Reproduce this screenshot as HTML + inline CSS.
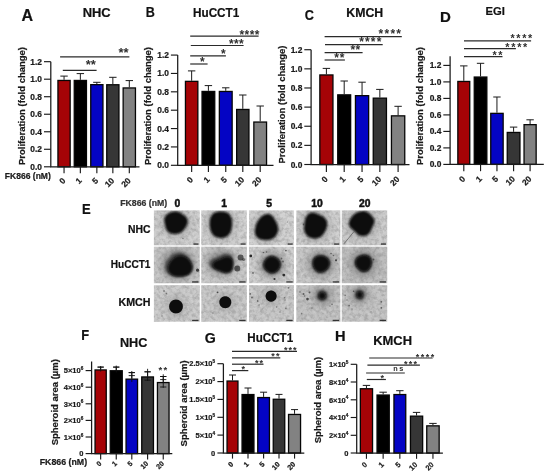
<!DOCTYPE html>
<html lang="en"><head><meta charset="utf-8"><title>FK866 proliferation and spheroid area</title>
<style>
html,body{margin:0;padding:0;background:#fff;}
body{width:550px;height:475px;overflow:hidden;font-family:"Liberation Sans",sans-serif;}
svg{display:block;font-family:"Liberation Sans",sans-serif;}
svg text{stroke:#1a1a1a;stroke-width:0.22px;paint-order:stroke;}
</style></head><body>
<svg width="550" height="475" viewBox="0 0 550 475">
<rect width="550" height="475" fill="#fff"/>

<line x1="44" y1="166.8" x2="50.8" y2="166.8" stroke="#1a1a1a" stroke-width="1.15"/>
<text x="42" y="169.82" text-anchor="end" font-size="8.4" font-weight="bold" fill="#1a1a1a">0.0</text>
<line x1="44" y1="149.28" x2="50.8" y2="149.28" stroke="#1a1a1a" stroke-width="1.15"/>
<text x="42" y="152.3" text-anchor="end" font-size="8.4" font-weight="bold" fill="#1a1a1a">0.2</text>
<line x1="44" y1="131.76" x2="50.8" y2="131.76" stroke="#1a1a1a" stroke-width="1.15"/>
<text x="42" y="134.78" text-anchor="end" font-size="8.4" font-weight="bold" fill="#1a1a1a">0.4</text>
<line x1="44" y1="114.24" x2="50.8" y2="114.24" stroke="#1a1a1a" stroke-width="1.15"/>
<text x="42" y="117.26" text-anchor="end" font-size="8.4" font-weight="bold" fill="#1a1a1a">0.6</text>
<line x1="44" y1="96.72" x2="50.8" y2="96.72" stroke="#1a1a1a" stroke-width="1.15"/>
<text x="42" y="99.74" text-anchor="end" font-size="8.4" font-weight="bold" fill="#1a1a1a">0.8</text>
<line x1="44" y1="79.2" x2="50.8" y2="79.2" stroke="#1a1a1a" stroke-width="1.15"/>
<text x="42" y="82.22" text-anchor="end" font-size="8.4" font-weight="bold" fill="#1a1a1a">1.0</text>
<line x1="44" y1="61.68" x2="50.8" y2="61.68" stroke="#1a1a1a" stroke-width="1.15"/>
<text x="42" y="64.7" text-anchor="end" font-size="8.4" font-weight="bold" fill="#1a1a1a">1.2</text>
<path d="M64.05 79.8V76.1M60.35 76.1H67.75" stroke="#1a1a1a" stroke-width="1" fill="none"/>
<rect x="57.95" y="80.45" width="12.2" height="86.35" fill="#a50306" stroke="#060606" stroke-width="1.3"/>
<line x1="64.05" y1="166.8" x2="64.05" y2="173.3" stroke="#1a1a1a" stroke-width="1.15"/>
<text transform="translate(63.85 179) rotate(-45)" text-anchor="end" font-size="8.4" font-weight="bold" fill="#1a1a1a" dominant-baseline="central">0</text>
<path d="M80.35 79.8V73.6M76.65 73.6H84.05" stroke="#1a1a1a" stroke-width="1" fill="none"/>
<rect x="74.25" y="80.45" width="12.2" height="86.35" fill="#000000" stroke="#060606" stroke-width="1.3"/>
<line x1="80.35" y1="166.8" x2="80.35" y2="173.3" stroke="#1a1a1a" stroke-width="1.15"/>
<text transform="translate(80.15 179) rotate(-45)" text-anchor="end" font-size="8.4" font-weight="bold" fill="#1a1a1a" dominant-baseline="central">1</text>
<path d="M96.85 84V82.3M93.15 82.3H100.55" stroke="#1a1a1a" stroke-width="1" fill="none"/>
<rect x="90.75" y="84.65" width="12.2" height="82.15" fill="#0404c4" stroke="#060606" stroke-width="1.3"/>
<line x1="96.85" y1="166.8" x2="96.85" y2="173.3" stroke="#1a1a1a" stroke-width="1.15"/>
<text transform="translate(96.65 179) rotate(-45)" text-anchor="end" font-size="8.4" font-weight="bold" fill="#1a1a1a" dominant-baseline="central">5</text>
<path d="M112.85 84.1V77.3M109.15 77.3H116.55" stroke="#1a1a1a" stroke-width="1" fill="none"/>
<rect x="106.75" y="84.75" width="12.2" height="82.05" fill="#363636" stroke="#060606" stroke-width="1.3"/>
<line x1="112.85" y1="166.8" x2="112.85" y2="173.3" stroke="#1a1a1a" stroke-width="1.15"/>
<text transform="translate(112.65 179) rotate(-45)" text-anchor="end" font-size="8.4" font-weight="bold" fill="#1a1a1a" dominant-baseline="central">10</text>
<path d="M129.3 87.3V80.6M125.6 80.6H133" stroke="#1a1a1a" stroke-width="1" fill="none"/>
<rect x="123.15" y="87.95" width="12.3" height="78.85" fill="#828282" stroke="#060606" stroke-width="1.3"/>
<line x1="129.3" y1="166.8" x2="129.3" y2="173.3" stroke="#1a1a1a" stroke-width="1.15"/>
<text transform="translate(129.1 179) rotate(-45)" text-anchor="end" font-size="8.4" font-weight="bold" fill="#1a1a1a" dominant-baseline="central">20</text>
<path d="M50.8 61.7V166.8H139.5" stroke="#1a1a1a" stroke-width="1.25" fill="none"/>
<text transform="translate(24.7 106) rotate(-90)" text-anchor="middle" font-size="8.6" font-weight="bold" fill="#1a1a1a" textLength="118" lengthAdjust="spacingAndGlyphs">Proliferation (fold change)</text>
<line x1="60.1" y1="56.9" x2="129.4" y2="56.9" stroke="#2a2a2a" stroke-width="1.2"/>
<text x="128.64" y="57.13" text-anchor="end" font-size="13" font-weight="bold" fill="#2e2e2e" letter-spacing="0.04" style="stroke:none">**</text>
<line x1="62.8" y1="70.3" x2="96.6" y2="70.3" stroke="#2a2a2a" stroke-width="1.2"/>
<text x="95.84" y="68.63" text-anchor="end" font-size="13" font-weight="bold" fill="#2e2e2e" letter-spacing="0.04" style="stroke:none">**</text>
<text x="27.8" y="176.7" text-anchor="middle" font-size="8.2" font-weight="bold" fill="#1a1a1a" dominant-baseline="central" textLength="46" lengthAdjust="spacingAndGlyphs">FK866 (nM)</text>
<text x="27.3" y="21.2" text-anchor="middle" font-size="16" font-weight="bold" fill="#111">A</text>
<text x="82.7" y="17.3" font-size="12.6" font-weight="bold" fill="#111" textLength="28" lengthAdjust="spacingAndGlyphs">NHC</text>
<line x1="170.9" y1="165.3" x2="177.7" y2="165.3" stroke="#1a1a1a" stroke-width="1.15"/>
<text x="168.9" y="168.32" text-anchor="end" font-size="8.4" font-weight="bold" fill="#1a1a1a">0.0</text>
<line x1="170.9" y1="146.93" x2="177.7" y2="146.93" stroke="#1a1a1a" stroke-width="1.15"/>
<text x="168.9" y="149.95" text-anchor="end" font-size="8.4" font-weight="bold" fill="#1a1a1a">0.2</text>
<line x1="170.9" y1="128.56" x2="177.7" y2="128.56" stroke="#1a1a1a" stroke-width="1.15"/>
<text x="168.9" y="131.58" text-anchor="end" font-size="8.4" font-weight="bold" fill="#1a1a1a">0.4</text>
<line x1="170.9" y1="110.19" x2="177.7" y2="110.19" stroke="#1a1a1a" stroke-width="1.15"/>
<text x="168.9" y="113.21" text-anchor="end" font-size="8.4" font-weight="bold" fill="#1a1a1a">0.6</text>
<line x1="170.9" y1="91.82" x2="177.7" y2="91.82" stroke="#1a1a1a" stroke-width="1.15"/>
<text x="168.9" y="94.84" text-anchor="end" font-size="8.4" font-weight="bold" fill="#1a1a1a">0.8</text>
<line x1="170.9" y1="73.45" x2="177.7" y2="73.45" stroke="#1a1a1a" stroke-width="1.15"/>
<text x="168.9" y="76.47" text-anchor="end" font-size="8.4" font-weight="bold" fill="#1a1a1a">1.0</text>
<line x1="170.9" y1="55.08" x2="177.7" y2="55.08" stroke="#1a1a1a" stroke-width="1.15"/>
<text x="168.9" y="58.1" text-anchor="end" font-size="8.4" font-weight="bold" fill="#1a1a1a">1.2</text>
<path d="M191.65 80.7V70.9M187.95 70.9H195.35" stroke="#1a1a1a" stroke-width="1" fill="none"/>
<rect x="185.45" y="81.35" width="12.4" height="83.95" fill="#a50306" stroke="#060606" stroke-width="1.3"/>
<line x1="191.65" y1="165.3" x2="191.65" y2="172.1" stroke="#1a1a1a" stroke-width="1.15"/>
<text transform="translate(191.45 178.2) rotate(-45)" text-anchor="end" font-size="8.4" font-weight="bold" fill="#1a1a1a" dominant-baseline="central">0</text>
<path d="M208.4 90.8V85.6M204.7 85.6H212.1" stroke="#1a1a1a" stroke-width="1" fill="none"/>
<rect x="202.05" y="91.45" width="12.7" height="73.85" fill="#000000" stroke="#060606" stroke-width="1.3"/>
<line x1="208.4" y1="165.3" x2="208.4" y2="172.1" stroke="#1a1a1a" stroke-width="1.15"/>
<text transform="translate(208.2 178.2) rotate(-45)" text-anchor="end" font-size="8.4" font-weight="bold" fill="#1a1a1a" dominant-baseline="central">1</text>
<path d="M225.75 90.8V87.8M222.05 87.8H229.45" stroke="#1a1a1a" stroke-width="1" fill="none"/>
<rect x="219.35" y="91.45" width="12.8" height="73.85" fill="#0404c4" stroke="#060606" stroke-width="1.3"/>
<line x1="225.75" y1="165.3" x2="225.75" y2="172.1" stroke="#1a1a1a" stroke-width="1.15"/>
<text transform="translate(225.55 178.2) rotate(-45)" text-anchor="end" font-size="8.4" font-weight="bold" fill="#1a1a1a" dominant-baseline="central">5</text>
<path d="M242.8 108.8V95M239.1 95H246.5" stroke="#1a1a1a" stroke-width="1" fill="none"/>
<rect x="236.65" y="109.45" width="12.3" height="55.85" fill="#363636" stroke="#060606" stroke-width="1.3"/>
<line x1="242.8" y1="165.3" x2="242.8" y2="172.1" stroke="#1a1a1a" stroke-width="1.15"/>
<text transform="translate(242.6 178.2) rotate(-45)" text-anchor="end" font-size="8.4" font-weight="bold" fill="#1a1a1a" dominant-baseline="central">10</text>
<path d="M260.2 121.4V106M256.5 106H263.9" stroke="#1a1a1a" stroke-width="1" fill="none"/>
<rect x="253.85" y="122.05" width="12.7" height="43.25" fill="#828282" stroke="#060606" stroke-width="1.3"/>
<line x1="260.2" y1="165.3" x2="260.2" y2="172.1" stroke="#1a1a1a" stroke-width="1.15"/>
<text transform="translate(260 178.2) rotate(-45)" text-anchor="end" font-size="8.4" font-weight="bold" fill="#1a1a1a" dominant-baseline="central">20</text>
<path d="M177.7 55.1V165.3H273.5" stroke="#1a1a1a" stroke-width="1.25" fill="none"/>
<text transform="translate(151.4 106) rotate(-90)" text-anchor="middle" font-size="8.6" font-weight="bold" fill="#1a1a1a" textLength="118" lengthAdjust="spacingAndGlyphs">Proliferation (fold change)</text>
<line x1="190.2" y1="36.1" x2="258.6" y2="36.1" stroke="#2a2a2a" stroke-width="1.2"/>
<text x="259.93" y="38.63" text-anchor="end" font-size="12" font-weight="bold" fill="#2e2e2e" letter-spacing="0.43" style="stroke:none">****</text>
<line x1="190.8" y1="45.5" x2="243.6" y2="45.5" stroke="#2a2a2a" stroke-width="1.2"/>
<text x="243.93" y="47.73" text-anchor="end" font-size="12" font-weight="bold" fill="#2e2e2e" letter-spacing="0.33" style="stroke:none">***</text>
<line x1="190.2" y1="55.8" x2="225.9" y2="55.8" stroke="#2a2a2a" stroke-width="1.2"/>
<text x="226.03" y="57.73" text-anchor="end" font-size="12" font-weight="bold" fill="#2e2e2e" letter-spacing="0.33" style="stroke:none">*</text>
<line x1="190.2" y1="64" x2="207.6" y2="64" stroke="#2a2a2a" stroke-width="1.2"/>
<text x="205.03" y="65.93" text-anchor="end" font-size="12" font-weight="bold" fill="#2e2e2e" letter-spacing="0.33" style="stroke:none">*</text>
<text x="150.25" y="17.4" text-anchor="middle" font-size="15" font-weight="bold" fill="#111" textLength="9.1" lengthAdjust="spacingAndGlyphs">B</text>
<text x="193" y="16.5" font-size="12.6" font-weight="bold" fill="#111" textLength="46.3" lengthAdjust="spacingAndGlyphs">HuCCT1</text>
<line x1="304.3" y1="164.5" x2="311.1" y2="164.5" stroke="#1a1a1a" stroke-width="1.15"/>
<text x="302.3" y="167.52" text-anchor="end" font-size="8.4" font-weight="bold" fill="#1a1a1a">0.0</text>
<line x1="304.3" y1="145.37" x2="311.1" y2="145.37" stroke="#1a1a1a" stroke-width="1.15"/>
<text x="302.3" y="148.39" text-anchor="end" font-size="8.4" font-weight="bold" fill="#1a1a1a">0.2</text>
<line x1="304.3" y1="126.24" x2="311.1" y2="126.24" stroke="#1a1a1a" stroke-width="1.15"/>
<text x="302.3" y="129.26" text-anchor="end" font-size="8.4" font-weight="bold" fill="#1a1a1a">0.4</text>
<line x1="304.3" y1="107.11" x2="311.1" y2="107.11" stroke="#1a1a1a" stroke-width="1.15"/>
<text x="302.3" y="110.13" text-anchor="end" font-size="8.4" font-weight="bold" fill="#1a1a1a">0.6</text>
<line x1="304.3" y1="87.98" x2="311.1" y2="87.98" stroke="#1a1a1a" stroke-width="1.15"/>
<text x="302.3" y="91" text-anchor="end" font-size="8.4" font-weight="bold" fill="#1a1a1a">0.8</text>
<line x1="304.3" y1="68.85" x2="311.1" y2="68.85" stroke="#1a1a1a" stroke-width="1.15"/>
<text x="302.3" y="71.87" text-anchor="end" font-size="8.4" font-weight="bold" fill="#1a1a1a">1.0</text>
<line x1="304.3" y1="49.72" x2="311.1" y2="49.72" stroke="#1a1a1a" stroke-width="1.15"/>
<text x="302.3" y="52.74" text-anchor="end" font-size="8.4" font-weight="bold" fill="#1a1a1a">1.2</text>
<path d="M326.4 74.3V68.4M322.7 68.4H330.1" stroke="#1a1a1a" stroke-width="1" fill="none"/>
<rect x="319.85" y="74.95" width="13.1" height="89.55" fill="#a50306" stroke="#060606" stroke-width="1.3"/>
<line x1="326.4" y1="164.5" x2="326.4" y2="172" stroke="#1a1a1a" stroke-width="1.15"/>
<text transform="translate(326.2 177.7) rotate(-45)" text-anchor="end" font-size="8.4" font-weight="bold" fill="#1a1a1a" dominant-baseline="central">0</text>
<path d="M344.2 94.2V81M340.5 81H347.9" stroke="#1a1a1a" stroke-width="1" fill="none"/>
<rect x="337.75" y="94.85" width="12.9" height="69.65" fill="#000000" stroke="#060606" stroke-width="1.3"/>
<line x1="344.2" y1="164.5" x2="344.2" y2="172" stroke="#1a1a1a" stroke-width="1.15"/>
<text transform="translate(344 177.7) rotate(-45)" text-anchor="end" font-size="8.4" font-weight="bold" fill="#1a1a1a" dominant-baseline="central">1</text>
<path d="M362.05 95V82.2M358.35 82.2H365.75" stroke="#1a1a1a" stroke-width="1" fill="none"/>
<rect x="355.45" y="95.65" width="13.2" height="68.85" fill="#0404c4" stroke="#060606" stroke-width="1.3"/>
<line x1="362.05" y1="164.5" x2="362.05" y2="172" stroke="#1a1a1a" stroke-width="1.15"/>
<text transform="translate(361.85 177.7) rotate(-45)" text-anchor="end" font-size="8.4" font-weight="bold" fill="#1a1a1a" dominant-baseline="central">5</text>
<path d="M379.85 97.5V89.4M376.15 89.4H383.55" stroke="#1a1a1a" stroke-width="1" fill="none"/>
<rect x="373.25" y="98.15" width="13.2" height="66.35" fill="#363636" stroke="#060606" stroke-width="1.3"/>
<line x1="379.85" y1="164.5" x2="379.85" y2="172" stroke="#1a1a1a" stroke-width="1.15"/>
<text transform="translate(379.65 177.7) rotate(-45)" text-anchor="end" font-size="8.4" font-weight="bold" fill="#1a1a1a" dominant-baseline="central">10</text>
<path d="M398.1 115.2V106.3M394.4 106.3H401.8" stroke="#1a1a1a" stroke-width="1" fill="none"/>
<rect x="391.45" y="115.85" width="13.3" height="48.65" fill="#828282" stroke="#060606" stroke-width="1.3"/>
<line x1="398.1" y1="164.5" x2="398.1" y2="172" stroke="#1a1a1a" stroke-width="1.15"/>
<text transform="translate(397.9 177.7) rotate(-45)" text-anchor="end" font-size="8.4" font-weight="bold" fill="#1a1a1a" dominant-baseline="central">20</text>
<path d="M311.1 49.7V164.5H409.5" stroke="#1a1a1a" stroke-width="1.25" fill="none"/>
<text transform="translate(284.5 104.5) rotate(-90)" text-anchor="middle" font-size="8.6" font-weight="bold" fill="#1a1a1a" textLength="118" lengthAdjust="spacingAndGlyphs">Proliferation (fold change)</text>
<line x1="324.6" y1="36.7" x2="401.8" y2="36.7" stroke="#2a2a2a" stroke-width="1.2"/>
<text x="402.23" y="38.13" text-anchor="end" font-size="12" font-weight="bold" fill="#2e2e2e" letter-spacing="1.23" style="stroke:none">****</text>
<line x1="325" y1="44.6" x2="382.7" y2="44.6" stroke="#2a2a2a" stroke-width="1.2"/>
<text x="382.58" y="45.73" text-anchor="end" font-size="12" font-weight="bold" fill="#2e2e2e" letter-spacing="1.18" style="stroke:none">****</text>
<line x1="324.6" y1="52.6" x2="362.6" y2="52.6" stroke="#2a2a2a" stroke-width="1.2"/>
<text x="360.43" y="53.93" text-anchor="end" font-size="12" font-weight="bold" fill="#2e2e2e" letter-spacing="0.33" style="stroke:none">**</text>
<line x1="324.6" y1="60" x2="344.9" y2="60" stroke="#2a2a2a" stroke-width="1.2"/>
<text x="345.33" y="62.03" text-anchor="end" font-size="12" font-weight="bold" fill="#2e2e2e" letter-spacing="0.83" style="stroke:none">**</text>
<text x="309.45" y="19.9" text-anchor="middle" font-size="15.5" font-weight="bold" fill="#111" textLength="9.18" lengthAdjust="spacingAndGlyphs">C</text>
<text x="346.3" y="16.5" font-size="12.6" font-weight="bold" fill="#111" textLength="36.9" lengthAdjust="spacingAndGlyphs">KMCH</text>
<line x1="443.3" y1="164.4" x2="450.1" y2="164.4" stroke="#1a1a1a" stroke-width="1.15"/>
<text x="441.3" y="167.42" text-anchor="end" font-size="8.4" font-weight="bold" fill="#1a1a1a">0.0</text>
<line x1="443.3" y1="147.9" x2="450.1" y2="147.9" stroke="#1a1a1a" stroke-width="1.15"/>
<text x="441.3" y="150.92" text-anchor="end" font-size="8.4" font-weight="bold" fill="#1a1a1a">0.2</text>
<line x1="443.3" y1="131.4" x2="450.1" y2="131.4" stroke="#1a1a1a" stroke-width="1.15"/>
<text x="441.3" y="134.42" text-anchor="end" font-size="8.4" font-weight="bold" fill="#1a1a1a">0.4</text>
<line x1="443.3" y1="114.9" x2="450.1" y2="114.9" stroke="#1a1a1a" stroke-width="1.15"/>
<text x="441.3" y="117.92" text-anchor="end" font-size="8.4" font-weight="bold" fill="#1a1a1a">0.6</text>
<line x1="443.3" y1="98.4" x2="450.1" y2="98.4" stroke="#1a1a1a" stroke-width="1.15"/>
<text x="441.3" y="101.42" text-anchor="end" font-size="8.4" font-weight="bold" fill="#1a1a1a">0.8</text>
<line x1="443.3" y1="81.9" x2="450.1" y2="81.9" stroke="#1a1a1a" stroke-width="1.15"/>
<text x="441.3" y="84.92" text-anchor="end" font-size="8.4" font-weight="bold" fill="#1a1a1a">1.0</text>
<line x1="443.3" y1="65.4" x2="450.1" y2="65.4" stroke="#1a1a1a" stroke-width="1.15"/>
<text x="441.3" y="68.42" text-anchor="end" font-size="8.4" font-weight="bold" fill="#1a1a1a">1.2</text>
<path d="M463.8 80.8V65.9M460.1 65.9H467.5" stroke="#1a1a1a" stroke-width="1" fill="none"/>
<rect x="457.85" y="81.45" width="11.9" height="82.95" fill="#a50306" stroke="#060606" stroke-width="1.3"/>
<line x1="463.8" y1="164.4" x2="463.8" y2="171.2" stroke="#1a1a1a" stroke-width="1.15"/>
<text transform="translate(463.6 177.3) rotate(-45)" text-anchor="end" font-size="8.4" font-weight="bold" fill="#1a1a1a" dominant-baseline="central">0</text>
<path d="M480.55 76.4V63.3M476.85 63.3H484.25" stroke="#1a1a1a" stroke-width="1" fill="none"/>
<rect x="474.25" y="77.05" width="12.6" height="87.35" fill="#000000" stroke="#060606" stroke-width="1.3"/>
<line x1="480.55" y1="164.4" x2="480.55" y2="171.2" stroke="#1a1a1a" stroke-width="1.15"/>
<text transform="translate(480.35 177.3) rotate(-45)" text-anchor="end" font-size="8.4" font-weight="bold" fill="#1a1a1a" dominant-baseline="central">1</text>
<path d="M496.95 112.7V97M493.25 97H500.65" stroke="#1a1a1a" stroke-width="1" fill="none"/>
<rect x="490.75" y="113.35" width="12.4" height="51.05" fill="#0404c4" stroke="#060606" stroke-width="1.3"/>
<line x1="496.95" y1="164.4" x2="496.95" y2="171.2" stroke="#1a1a1a" stroke-width="1.15"/>
<text transform="translate(496.75 177.3) rotate(-45)" text-anchor="end" font-size="8.4" font-weight="bold" fill="#1a1a1a" dominant-baseline="central">5</text>
<path d="M513.6 131.8V127.1M509.9 127.1H517.3" stroke="#1a1a1a" stroke-width="1" fill="none"/>
<rect x="507.25" y="132.45" width="12.7" height="31.95" fill="#363636" stroke="#060606" stroke-width="1.3"/>
<line x1="513.6" y1="164.4" x2="513.6" y2="171.2" stroke="#1a1a1a" stroke-width="1.15"/>
<text transform="translate(513.4 177.3) rotate(-45)" text-anchor="end" font-size="8.4" font-weight="bold" fill="#1a1a1a" dominant-baseline="central">10</text>
<path d="M530.1 124V119.8M526.4 119.8H533.8" stroke="#1a1a1a" stroke-width="1" fill="none"/>
<rect x="524.05" y="124.65" width="12.1" height="39.75" fill="#828282" stroke="#060606" stroke-width="1.3"/>
<line x1="530.1" y1="164.4" x2="530.1" y2="171.2" stroke="#1a1a1a" stroke-width="1.15"/>
<text transform="translate(529.9 177.3) rotate(-45)" text-anchor="end" font-size="8.4" font-weight="bold" fill="#1a1a1a" dominant-baseline="central">20</text>
<path d="M450.1 56.2V164.4H543.8" stroke="#1a1a1a" stroke-width="1.25" fill="none"/>
<text transform="translate(422.6 106) rotate(-90)" text-anchor="middle" font-size="8.6" font-weight="bold" fill="#1a1a1a" textLength="118" lengthAdjust="spacingAndGlyphs">Proliferation (fold change)</text>
<line x1="464" y1="40.9" x2="531.1" y2="40.9" stroke="#2a2a2a" stroke-width="1.2"/>
<text x="534" y="42.23" text-anchor="end" font-size="10.8" font-weight="bold" fill="#2e2e2e" letter-spacing="1.7" style="stroke:none">****</text>
<line x1="464" y1="48.7" x2="515.9" y2="48.7" stroke="#2a2a2a" stroke-width="1.2"/>
<text x="529.05" y="50.53" text-anchor="end" font-size="10.8" font-weight="bold" fill="#2e2e2e" letter-spacing="1.75" style="stroke:none">****</text>
<line x1="464" y1="56.6" x2="502.5" y2="56.6" stroke="#2a2a2a" stroke-width="1.2"/>
<text x="504.2" y="58.73" text-anchor="end" font-size="10.8" font-weight="bold" fill="#2e2e2e" letter-spacing="1.7" style="stroke:none">**</text>
<text x="445.35" y="21.9" text-anchor="middle" font-size="15" font-weight="bold" fill="#111">D</text>
<text x="485.6" y="15.3" font-size="11.8" font-weight="bold" fill="#111" textLength="19.4" lengthAdjust="spacingAndGlyphs">EGI</text>
<line x1="85.6" y1="453.6" x2="91.6" y2="453.6" stroke="#1a1a1a" stroke-width="1.15"/>
<text x="83.3" y="456.3" text-anchor="end" font-size="7.5" font-weight="bold" fill="#1a1a1a">0</text>
<line x1="85.6" y1="437" x2="91.6" y2="437" stroke="#1a1a1a" stroke-width="1.15"/>
<text x="83.3" y="439.7" text-anchor="end" font-size="7.5" font-weight="bold" fill="#1a1a1a">1×10<tspan font-size="4.65" dy="-3.15">6</tspan></text>
<line x1="85.6" y1="420.4" x2="91.6" y2="420.4" stroke="#1a1a1a" stroke-width="1.15"/>
<text x="83.3" y="423.1" text-anchor="end" font-size="7.5" font-weight="bold" fill="#1a1a1a">2×10<tspan font-size="4.65" dy="-3.15">6</tspan></text>
<line x1="85.6" y1="403.8" x2="91.6" y2="403.8" stroke="#1a1a1a" stroke-width="1.15"/>
<text x="83.3" y="406.5" text-anchor="end" font-size="7.5" font-weight="bold" fill="#1a1a1a">3×10<tspan font-size="4.65" dy="-3.15">6</tspan></text>
<line x1="85.6" y1="387.2" x2="91.6" y2="387.2" stroke="#1a1a1a" stroke-width="1.15"/>
<text x="83.3" y="389.9" text-anchor="end" font-size="7.5" font-weight="bold" fill="#1a1a1a">4×10<tspan font-size="4.65" dy="-3.15">6</tspan></text>
<line x1="85.6" y1="370.6" x2="91.6" y2="370.6" stroke="#1a1a1a" stroke-width="1.15"/>
<text x="83.3" y="373.3" text-anchor="end" font-size="7.5" font-weight="bold" fill="#1a1a1a">5×10<tspan font-size="4.65" dy="-3.15">6</tspan></text>
<path d="M100.65 369.3V367.1M97.55 367.1H103.75" stroke="#1a1a1a" stroke-width="1" fill="none"/>
<rect x="95.05" y="369.95" width="11.2" height="83.65" fill="#a50306" stroke="#060606" stroke-width="1.3"/>
<path d="M100.65 366V371.5M97.55 367.1H103.75" stroke="#111" stroke-width="0.9" fill="none"/>
<line x1="100.65" y1="453.6" x2="100.65" y2="459.4" stroke="#1a1a1a" stroke-width="1.15"/>
<text transform="translate(100.15 462.3) rotate(-45)" text-anchor="end" font-size="7" font-weight="bold" fill="#1a1a1a" dominant-baseline="central">0</text>
<path d="M116.25 370.1V367.1M113.15 367.1H119.35" stroke="#1a1a1a" stroke-width="1" fill="none"/>
<rect x="110.25" y="370.75" width="12" height="82.85" fill="#000000" stroke="#060606" stroke-width="1.3"/>
<path d="M116.25 365.6V372.5M113.15 367.1H119.35" stroke="#111" stroke-width="0.9" fill="none"/>
<line x1="116.25" y1="453.6" x2="116.25" y2="459.4" stroke="#1a1a1a" stroke-width="1.15"/>
<text transform="translate(115.75 462.3) rotate(-45)" text-anchor="end" font-size="7" font-weight="bold" fill="#1a1a1a" dominant-baseline="central">1</text>
<path d="M131.8 378.5V372.6M128.7 372.6H134.9" stroke="#1a1a1a" stroke-width="1" fill="none"/>
<rect x="126.05" y="379.15" width="11.5" height="74.45" fill="#0404c4" stroke="#060606" stroke-width="1.3"/>
<path d="M131.8 371V382M128.7 372.6H134.9M128.7 375.6H134.9" stroke="#111" stroke-width="0.9" fill="none"/>
<line x1="131.8" y1="453.6" x2="131.8" y2="459.4" stroke="#1a1a1a" stroke-width="1.15"/>
<text transform="translate(131.3 462.3) rotate(-45)" text-anchor="end" font-size="7" font-weight="bold" fill="#1a1a1a" dominant-baseline="central">5</text>
<path d="M147.6 376.3V371.8M144.5 371.8H150.7" stroke="#1a1a1a" stroke-width="1" fill="none"/>
<rect x="141.75" y="376.95" width="11.7" height="76.65" fill="#363636" stroke="#060606" stroke-width="1.3"/>
<path d="M147.6 368.8V381M144.5 371.8H150.7M144.5 380.2H150.7" stroke="#111" stroke-width="0.9" fill="none"/>
<line x1="147.6" y1="453.6" x2="147.6" y2="459.4" stroke="#1a1a1a" stroke-width="1.15"/>
<text transform="translate(147.1 462.3) rotate(-45)" text-anchor="end" font-size="7" font-weight="bold" fill="#1a1a1a" dominant-baseline="central">10</text>
<path d="M163.25 381.9V376.5M160.15 376.5H166.35" stroke="#1a1a1a" stroke-width="1" fill="none"/>
<rect x="157.45" y="382.55" width="11.6" height="71.05" fill="#828282" stroke="#060606" stroke-width="1.3"/>
<path d="M163.25 374.3V387.8M160.15 376.5H166.35M160.15 379.6H166.35M160.15 387H166.35" stroke="#111" stroke-width="0.9" fill="none"/>
<line x1="163.25" y1="453.6" x2="163.25" y2="459.4" stroke="#1a1a1a" stroke-width="1.15"/>
<text transform="translate(162.75 462.3) rotate(-45)" text-anchor="end" font-size="7" font-weight="bold" fill="#1a1a1a" dominant-baseline="central">20</text>
<path d="M91.6 361.5V453.6H172.3" stroke="#1a1a1a" stroke-width="1.25" fill="none"/>
<text transform="translate(57.6 402.2) rotate(-90)" text-anchor="middle" font-size="9.4" font-weight="bold" fill="#1a1a1a" textLength="86.3" lengthAdjust="spacingAndGlyphs">Spheroid area (µm)</text>
<text x="168.5" y="372.87" text-anchor="end" font-size="9.5" font-weight="bold" fill="#2e2e2e" letter-spacing="1.3" style="stroke:none">**</text>
<text x="63.4" y="462.3" text-anchor="middle" font-size="8.4" font-weight="bold" fill="#1a1a1a" dominant-baseline="central" textLength="47.5" lengthAdjust="spacingAndGlyphs">FK866 (nM)</text>
<text x="85.25" y="340.2" text-anchor="middle" font-size="14" font-weight="bold" fill="#111" textLength="7.87" lengthAdjust="spacingAndGlyphs">F</text>
<text x="119.9" y="346.5" font-size="13.2" font-weight="bold" fill="#111" textLength="27.5" lengthAdjust="spacingAndGlyphs">NHC</text>
<line x1="217.4" y1="453" x2="223.4" y2="453" stroke="#1a1a1a" stroke-width="1.15"/>
<text x="215.1" y="455.7" text-anchor="end" font-size="7.5" font-weight="bold" fill="#1a1a1a">0</text>
<line x1="217.4" y1="435.1" x2="223.4" y2="435.1" stroke="#1a1a1a" stroke-width="1.15"/>
<text x="215.1" y="437.8" text-anchor="end" font-size="7.5" font-weight="bold" fill="#1a1a1a">5×10<tspan font-size="4.65" dy="-3.15">4</tspan></text>
<line x1="217.4" y1="417.3" x2="223.4" y2="417.3" stroke="#1a1a1a" stroke-width="1.15"/>
<text x="215.1" y="420" text-anchor="end" font-size="7.5" font-weight="bold" fill="#1a1a1a">1×10<tspan font-size="4.65" dy="-3.15">5</tspan></text>
<line x1="217.4" y1="399.4" x2="223.4" y2="399.4" stroke="#1a1a1a" stroke-width="1.15"/>
<text x="215.1" y="402.1" text-anchor="end" font-size="7.5" font-weight="bold" fill="#1a1a1a">1.5×10<tspan font-size="4.65" dy="-3.15">5</tspan></text>
<line x1="217.4" y1="381.6" x2="223.4" y2="381.6" stroke="#1a1a1a" stroke-width="1.15"/>
<text x="215.1" y="384.3" text-anchor="end" font-size="7.5" font-weight="bold" fill="#1a1a1a">2×10<tspan font-size="4.65" dy="-3.15">5</tspan></text>
<line x1="217.4" y1="363.7" x2="223.4" y2="363.7" stroke="#1a1a1a" stroke-width="1.15"/>
<text x="215.1" y="366.4" text-anchor="end" font-size="7.5" font-weight="bold" fill="#1a1a1a">2.5×10<tspan font-size="4.65" dy="-3.15">5</tspan></text>
<path d="M232.5 380.4V375M229 375H236" stroke="#1a1a1a" stroke-width="1" fill="none"/>
<rect x="227.05" y="381.05" width="10.9" height="71.95" fill="#a50306" stroke="#060606" stroke-width="1.3"/>
<line x1="232.5" y1="453" x2="232.5" y2="458.6" stroke="#1a1a1a" stroke-width="1.15"/>
<text transform="translate(232.1 463) rotate(-45)" text-anchor="end" font-size="7.2" font-weight="bold" fill="#1a1a1a" dominant-baseline="central">0</text>
<path d="M248 393.9V388M244.5 388H251.5" stroke="#1a1a1a" stroke-width="1" fill="none"/>
<rect x="242.05" y="394.55" width="11.9" height="58.45" fill="#000000" stroke="#060606" stroke-width="1.3"/>
<line x1="248" y1="453" x2="248" y2="458.6" stroke="#1a1a1a" stroke-width="1.15"/>
<text transform="translate(247.6 463) rotate(-45)" text-anchor="end" font-size="7.2" font-weight="bold" fill="#1a1a1a" dominant-baseline="central">1</text>
<path d="M263.6 396.9V392.2M260.1 392.2H267.1" stroke="#1a1a1a" stroke-width="1" fill="none"/>
<rect x="257.75" y="397.55" width="11.7" height="55.45" fill="#0404c4" stroke="#060606" stroke-width="1.3"/>
<line x1="263.6" y1="453" x2="263.6" y2="458.6" stroke="#1a1a1a" stroke-width="1.15"/>
<text transform="translate(263.2 463) rotate(-45)" text-anchor="end" font-size="7.2" font-weight="bold" fill="#1a1a1a" dominant-baseline="central">5</text>
<path d="M279 398.6V394.4M275.5 394.4H282.5" stroke="#1a1a1a" stroke-width="1" fill="none"/>
<rect x="273.25" y="399.25" width="11.5" height="53.75" fill="#363636" stroke="#060606" stroke-width="1.3"/>
<line x1="279" y1="453" x2="279" y2="458.6" stroke="#1a1a1a" stroke-width="1.15"/>
<text transform="translate(278.6 463) rotate(-45)" text-anchor="end" font-size="7.2" font-weight="bold" fill="#1a1a1a" dominant-baseline="central">10</text>
<path d="M294.55 413.8V409.6M291.05 409.6H298.05" stroke="#1a1a1a" stroke-width="1" fill="none"/>
<rect x="288.55" y="414.45" width="12" height="38.55" fill="#828282" stroke="#060606" stroke-width="1.3"/>
<line x1="294.55" y1="453" x2="294.55" y2="458.6" stroke="#1a1a1a" stroke-width="1.15"/>
<text transform="translate(294.15 463) rotate(-45)" text-anchor="end" font-size="7.2" font-weight="bold" fill="#1a1a1a" dominant-baseline="central">20</text>
<path d="M223.4 363.7V453H304.3" stroke="#1a1a1a" stroke-width="1.25" fill="none"/>
<text transform="translate(187.2 403.4) rotate(-90)" text-anchor="middle" font-size="9.3" font-weight="bold" fill="#1a1a1a" textLength="86" lengthAdjust="spacingAndGlyphs">Spheroid area (µm)</text>
<line x1="232" y1="351.4" x2="297" y2="351.4" stroke="#2a2a2a" stroke-width="1.2"/>
<text x="297.7" y="353.22" text-anchor="end" font-size="9" font-weight="bold" fill="#2e2e2e" letter-spacing="1.1" style="stroke:none">***</text>
<line x1="232" y1="357.8" x2="280.3" y2="357.8" stroke="#2a2a2a" stroke-width="1.2"/>
<text x="280.7" y="359.02" text-anchor="end" font-size="9" font-weight="bold" fill="#2e2e2e" letter-spacing="1.2" style="stroke:none">**</text>
<line x1="232" y1="364.2" x2="263.5" y2="364.2" stroke="#2a2a2a" stroke-width="1.2"/>
<text x="264.1" y="365.92" text-anchor="end" font-size="9" font-weight="bold" fill="#2e2e2e" letter-spacing="1" style="stroke:none">**</text>
<line x1="232" y1="370.6" x2="248.3" y2="370.6" stroke="#2a2a2a" stroke-width="1.2"/>
<text x="246.1" y="371.82" text-anchor="end" font-size="9" font-weight="bold" fill="#2e2e2e" letter-spacing="1.1" style="stroke:none">*</text>
<text x="210.2" y="342.5" text-anchor="middle" font-size="14.2" font-weight="bold" fill="#111">G</text>
<text x="247.3" y="342.4" font-size="13.2" font-weight="bold" fill="#111" textLength="45.8" lengthAdjust="spacingAndGlyphs">HuCCT1</text>
<line x1="350.7" y1="453" x2="356.7" y2="453" stroke="#1a1a1a" stroke-width="1.15"/>
<text x="348.4" y="455.7" text-anchor="end" font-size="7.5" font-weight="bold" fill="#1a1a1a">0</text>
<line x1="350.7" y1="435.3" x2="356.7" y2="435.3" stroke="#1a1a1a" stroke-width="1.15"/>
<text x="348.4" y="438" text-anchor="end" font-size="7.5" font-weight="bold" fill="#1a1a1a">2×10<tspan font-size="4.65" dy="-3.15">4</tspan></text>
<line x1="350.7" y1="417.5" x2="356.7" y2="417.5" stroke="#1a1a1a" stroke-width="1.15"/>
<text x="348.4" y="420.2" text-anchor="end" font-size="7.5" font-weight="bold" fill="#1a1a1a">4×10<tspan font-size="4.65" dy="-3.15">4</tspan></text>
<line x1="350.7" y1="399.8" x2="356.7" y2="399.8" stroke="#1a1a1a" stroke-width="1.15"/>
<text x="348.4" y="402.5" text-anchor="end" font-size="7.5" font-weight="bold" fill="#1a1a1a">6×10<tspan font-size="4.65" dy="-3.15">4</tspan></text>
<line x1="350.7" y1="382" x2="356.7" y2="382" stroke="#1a1a1a" stroke-width="1.15"/>
<text x="348.4" y="384.7" text-anchor="end" font-size="7.5" font-weight="bold" fill="#1a1a1a">8×10<tspan font-size="4.65" dy="-3.15">4</tspan></text>
<line x1="350.7" y1="364.3" x2="356.7" y2="364.3" stroke="#1a1a1a" stroke-width="1.15"/>
<text x="348.4" y="367" text-anchor="end" font-size="7.5" font-weight="bold" fill="#1a1a1a">1×10<tspan font-size="4.65" dy="-3.15">5</tspan></text>
<path d="M366.45 388.1V385.4M362.75 385.4H370.15" stroke="#1a1a1a" stroke-width="1" fill="none"/>
<rect x="360.35" y="388.75" width="12.2" height="64.25" fill="#a50306" stroke="#060606" stroke-width="1.3"/>
<line x1="366.45" y1="453" x2="366.45" y2="458.8" stroke="#1a1a1a" stroke-width="1.15"/>
<text transform="translate(365.95 463.4) rotate(-45)" text-anchor="end" font-size="7.4" font-weight="bold" fill="#1a1a1a" dominant-baseline="central">0</text>
<path d="M383.15 394.4V392.2M379.45 392.2H386.85" stroke="#1a1a1a" stroke-width="1" fill="none"/>
<rect x="377.05" y="395.05" width="12.2" height="57.95" fill="#000000" stroke="#060606" stroke-width="1.3"/>
<line x1="383.15" y1="453" x2="383.15" y2="458.8" stroke="#1a1a1a" stroke-width="1.15"/>
<text transform="translate(382.65 463.4) rotate(-45)" text-anchor="end" font-size="7.4" font-weight="bold" fill="#1a1a1a" dominant-baseline="central">1</text>
<path d="M399.85 393.9V390.7M396.15 390.7H403.55" stroke="#1a1a1a" stroke-width="1" fill="none"/>
<rect x="393.95" y="394.55" width="11.8" height="58.45" fill="#0404c4" stroke="#060606" stroke-width="1.3"/>
<line x1="399.85" y1="453" x2="399.85" y2="458.8" stroke="#1a1a1a" stroke-width="1.15"/>
<text transform="translate(399.35 463.4) rotate(-45)" text-anchor="end" font-size="7.4" font-weight="bold" fill="#1a1a1a" dominant-baseline="central">5</text>
<path d="M416.55 415.5V412.4M412.85 412.4H420.25" stroke="#1a1a1a" stroke-width="1" fill="none"/>
<rect x="410.45" y="416.15" width="12.2" height="36.85" fill="#363636" stroke="#060606" stroke-width="1.3"/>
<line x1="416.55" y1="453" x2="416.55" y2="458.8" stroke="#1a1a1a" stroke-width="1.15"/>
<text transform="translate(416.05 463.4) rotate(-45)" text-anchor="end" font-size="7.4" font-weight="bold" fill="#1a1a1a" dominant-baseline="central">10</text>
<path d="M432.95 425.2V423.4M429.25 423.4H436.65" stroke="#1a1a1a" stroke-width="1" fill="none"/>
<rect x="426.75" y="425.85" width="12.4" height="27.15" fill="#828282" stroke="#060606" stroke-width="1.3"/>
<line x1="432.95" y1="453" x2="432.95" y2="458.8" stroke="#1a1a1a" stroke-width="1.15"/>
<text transform="translate(432.45 463.4) rotate(-45)" text-anchor="end" font-size="7.4" font-weight="bold" fill="#1a1a1a" dominant-baseline="central">20</text>
<path d="M356.7 364.3V453H442.9" stroke="#1a1a1a" stroke-width="1.25" fill="none"/>
<text transform="translate(320.6 400) rotate(-90)" text-anchor="middle" font-size="9.3" font-weight="bold" fill="#1a1a1a" textLength="86.5" lengthAdjust="spacingAndGlyphs">Spheroid area (µm)</text>
<line x1="369.2" y1="358" x2="432.7" y2="358" stroke="#2a2a2a" stroke-width="1.2"/>
<text x="435.7" y="359.72" text-anchor="end" font-size="9" font-weight="bold" fill="#2e2e2e" letter-spacing="1.5" style="stroke:none">****</text>
<line x1="367.4" y1="365.2" x2="419.9" y2="365.2" stroke="#2a2a2a" stroke-width="1.2"/>
<text x="418.2" y="367.02" text-anchor="end" font-size="9" font-weight="bold" fill="#2e2e2e" letter-spacing="1.2" style="stroke:none">***</text>
<line x1="366.1" y1="373" x2="404.8" y2="373" stroke="#2a2a2a" stroke-width="1.2"/>
<text x="404.7" y="371.3" text-anchor="end" font-size="7.3" font-weight="bold" fill="#2e2e2e" letter-spacing="1.4" style="stroke:none">ns</text>
<line x1="366.8" y1="379.5" x2="385.9" y2="379.5" stroke="#2a2a2a" stroke-width="1.2"/>
<text x="385.1" y="380.82" text-anchor="end" font-size="9" font-weight="bold" fill="#2e2e2e" letter-spacing="1.1" style="stroke:none">*</text>
<text x="340.2" y="340.9" text-anchor="middle" font-size="14.6" font-weight="bold" fill="#111">H</text>
<text x="373.2" y="344.6" font-size="13.2" font-weight="bold" fill="#111" textLength="38.8" lengthAdjust="spacingAndGlyphs">KMCH</text>
<defs>
<filter id="bl" x="-20%" y="-20%" width="140%" height="140%"><feGaussianBlur stdDeviation="0.9"/></filter>
<filter id="bl1" x="-30%" y="-30%" width="160%" height="160%"><feGaussianBlur stdDeviation="1.2"/></filter>
<filter id="bl2" x="-50%" y="-50%" width="200%" height="200%"><feGaussianBlur stdDeviation="3"/></filter>
<filter id="blc" x="-20%" y="-20%" width="140%" height="140%"><feGaussianBlur stdDeviation="0.55"/></filter>
<filter id="sp" x="-50%" y="-50%" width="200%" height="200%"><feGaussianBlur stdDeviation="0.45"/></filter>
<filter id="tex" x="0" y="0" width="100%" height="100%"><feTurbulence type="fractalNoise" baseFrequency="0.28" numOctaves="3" seed="7" result="n"/><feColorMatrix in="n" type="matrix" values="0 0 0 0 0.2  0 0 0 0 0.2  0 0 0 0 0.2  2.6 0 0 0 -1.0"/><feComposite in2="SourceGraphic" operator="in"/></filter>
<filter id="texl" x="0" y="0" width="100%" height="100%"><feTurbulence type="fractalNoise" baseFrequency="0.3" numOctaves="2" seed="11" result="n"/><feColorMatrix in="n" type="matrix" values="0 0 0 0 1  0 0 0 0 1  0 0 0 0 1  0 1.2 0 0 -0.5"/><feComposite in2="SourceGraphic" operator="in"/></filter>
</defs>
<g>
<rect x="153.9" y="210.4" width="45.8" height="34.9" fill="#cdcdcd"/>
<rect x="153.9" y="210.4" width="45.8" height="34.9" fill="#000" filter="url(#tex)" opacity="0.36"/>
<rect x="153.9" y="210.4" width="45.8" height="34.9" fill="#fff" filter="url(#texl)" opacity="0.35"/>
</g>
<g>
<rect x="201.3" y="210.4" width="45.5" height="34.9" fill="#cfcfcf"/>
<rect x="201.3" y="210.4" width="45.5" height="34.9" fill="#000" filter="url(#tex)" opacity="0.36"/>
<rect x="201.3" y="210.4" width="45.5" height="34.9" fill="#fff" filter="url(#texl)" opacity="0.35"/>
</g>
<g>
<rect x="249" y="210.4" width="44.9" height="34.9" fill="#d2d2d2"/>
<rect x="249" y="210.4" width="44.9" height="34.9" fill="#000" filter="url(#tex)" opacity="0.36"/>
<rect x="249" y="210.4" width="44.9" height="34.9" fill="#fff" filter="url(#texl)" opacity="0.35"/>
</g>
<g>
<rect x="296.3" y="210.4" width="44" height="34.9" fill="#cccccc"/>
<rect x="296.3" y="210.4" width="44" height="34.9" fill="#000" filter="url(#tex)" opacity="0.36"/>
<rect x="296.3" y="210.4" width="44" height="34.9" fill="#fff" filter="url(#texl)" opacity="0.35"/>
</g>
<g>
<rect x="341.8" y="210.4" width="45.4" height="34.9" fill="#cacaca"/>
<rect x="341.8" y="210.4" width="45.4" height="34.9" fill="#000" filter="url(#tex)" opacity="0.36"/>
<rect x="341.8" y="210.4" width="45.4" height="34.9" fill="#fff" filter="url(#texl)" opacity="0.35"/>
</g>
<g>
<rect x="153.9" y="246.7" width="45.8" height="36.5" fill="#c4c4c4"/>
<rect x="153.9" y="246.7" width="45.8" height="36.5" fill="#000" filter="url(#tex)" opacity="0.36"/>
<rect x="153.9" y="246.7" width="45.8" height="36.5" fill="#fff" filter="url(#texl)" opacity="0.35"/>
</g>
<g>
<rect x="201.3" y="246.7" width="45.5" height="36.5" fill="#c6c6c6"/>
<rect x="201.3" y="246.7" width="45.5" height="36.5" fill="#000" filter="url(#tex)" opacity="0.36"/>
<rect x="201.3" y="246.7" width="45.5" height="36.5" fill="#fff" filter="url(#texl)" opacity="0.35"/>
</g>
<g>
<rect x="249" y="246.7" width="44.9" height="36.5" fill="#cecece"/>
<rect x="249" y="246.7" width="44.9" height="36.5" fill="#000" filter="url(#tex)" opacity="0.36"/>
<rect x="249" y="246.7" width="44.9" height="36.5" fill="#fff" filter="url(#texl)" opacity="0.35"/>
</g>
<g>
<rect x="296.3" y="246.7" width="44" height="36.5" fill="#c6c6c6"/>
<rect x="296.3" y="246.7" width="44" height="36.5" fill="#000" filter="url(#tex)" opacity="0.36"/>
<rect x="296.3" y="246.7" width="44" height="36.5" fill="#fff" filter="url(#texl)" opacity="0.35"/>
</g>
<g>
<rect x="341.8" y="246.7" width="45.4" height="36.5" fill="#bdbdbd"/>
<rect x="341.8" y="246.7" width="45.4" height="36.5" fill="#000" filter="url(#tex)" opacity="0.36"/>
<rect x="341.8" y="246.7" width="45.4" height="36.5" fill="#fff" filter="url(#texl)" opacity="0.35"/>
</g>
<g>
<rect x="153.9" y="285.2" width="45.8" height="36.5" fill="#c9c9c9"/>
<rect x="153.9" y="285.2" width="45.8" height="36.5" fill="#000" filter="url(#tex)" opacity="0.36"/>
<rect x="153.9" y="285.2" width="45.8" height="36.5" fill="#fff" filter="url(#texl)" opacity="0.35"/>
</g>
<g>
<rect x="201.3" y="285.2" width="45.5" height="36.5" fill="#c6c6c6"/>
<rect x="201.3" y="285.2" width="45.5" height="36.5" fill="#000" filter="url(#tex)" opacity="0.36"/>
<rect x="201.3" y="285.2" width="45.5" height="36.5" fill="#fff" filter="url(#texl)" opacity="0.35"/>
</g>
<g>
<rect x="249" y="285.2" width="44.9" height="36.5" fill="#c6c6c6"/>
<rect x="249" y="285.2" width="44.9" height="36.5" fill="#000" filter="url(#tex)" opacity="0.36"/>
<rect x="249" y="285.2" width="44.9" height="36.5" fill="#fff" filter="url(#texl)" opacity="0.35"/>
</g>
<g>
<rect x="296.3" y="285.2" width="44" height="36.5" fill="#c0c0c0"/>
<rect x="296.3" y="285.2" width="44" height="36.5" fill="#000" filter="url(#tex)" opacity="0.36"/>
<rect x="296.3" y="285.2" width="44" height="36.5" fill="#fff" filter="url(#texl)" opacity="0.35"/>
</g>
<g>
<rect x="341.8" y="285.2" width="45.4" height="36.5" fill="#c2c2c2"/>
<rect x="341.8" y="285.2" width="45.4" height="36.5" fill="#000" filter="url(#tex)" opacity="0.36"/>
<rect x="341.8" y="285.2" width="45.4" height="36.5" fill="#fff" filter="url(#texl)" opacity="0.35"/>
</g>
<clipPath id="tiles"><rect x="153.9" y="210.4" width="45.8" height="34.9"/><rect x="201.3" y="210.4" width="45.5" height="34.9"/><rect x="249" y="210.4" width="44.9" height="34.9"/><rect x="296.3" y="210.4" width="44" height="34.9"/><rect x="341.8" y="210.4" width="45.4" height="34.9"/><rect x="153.9" y="246.7" width="45.8" height="36.5"/><rect x="201.3" y="246.7" width="45.5" height="36.5"/><rect x="249" y="246.7" width="44.9" height="36.5"/><rect x="296.3" y="246.7" width="44" height="36.5"/><rect x="341.8" y="246.7" width="45.4" height="36.5"/><rect x="153.9" y="285.2" width="45.8" height="36.5"/><rect x="201.3" y="285.2" width="45.5" height="36.5"/><rect x="249" y="285.2" width="44.9" height="36.5"/><rect x="296.3" y="285.2" width="44" height="36.5"/><rect x="341.8" y="285.2" width="45.4" height="36.5"/></clipPath>
<g clip-path="url(#tiles)">
<g clip-path="none">
<ellipse cx="175.6" cy="222.6" rx="15.6" ry="15.3" fill="#777" opacity="0.28" filter="url(#bl2)"/>
<path d="M187.7 222.6L187.3 224.1L186.7 225.5L186.0 226.8L185.2 228.0L184.4 229.2L183.5 230.3L182.5 231.4L181.4 232.3L180.0 233.0L178.6 233.5L177.1 233.8L175.6 233.9L174.1 233.9L172.5 233.7L171.0 233.4L169.5 232.8L168.2 232.0L167.1 230.8L166.3 229.5L165.8 228.1L165.4 226.7L165.1 225.3L164.8 224.0L164.5 222.6L164.3 221.2L164.3 219.6L164.5 218.1L165.1 216.7L166.0 215.4L167.1 214.3L168.4 213.5L169.8 212.7L171.2 212.1L172.6 211.7L174.1 211.4L175.6 211.3L177.1 211.5L178.5 211.9L179.9 212.5L181.1 213.2L182.3 214.0L183.5 214.9L184.7 215.8L185.9 216.8L186.8 218.1L187.5 219.5L187.8 221.0Z" fill="#0b0b0b" filter="url(#bl)"/>
</g>
<rect x="193.5" y="243.4" width="5.0" height="1.3" fill="#1c1c1c" opacity="0.85" filter="url(#sp)"/>
<g clip-path="none">
<ellipse cx="220.9" cy="224.5" rx="15.6" ry="17.6" fill="#777" opacity="0.28" filter="url(#bl2)"/>
<path d="M232.2 224.5L232.0 226.2L231.8 227.9L231.4 229.6L230.9 231.3L230.2 232.8L229.2 234.3L228.1 235.5L226.8 236.5L225.4 237.2L223.9 237.6L222.4 237.9L220.9 238.0L219.4 237.9L217.9 237.6L216.4 237.2L215.0 236.5L213.7 235.5L212.6 234.3L211.6 232.8L210.9 231.3L210.4 229.6L210.0 227.9L209.8 226.2L209.6 224.5L209.6 222.8L209.7 221.0L210.0 219.2L210.5 217.5L211.3 215.9L212.3 214.5L213.6 213.3L215.0 212.5L216.5 212.0L218.0 211.7L219.5 211.6L220.9 211.6L222.3 211.6L223.8 211.7L225.3 212.0L226.8 212.5L228.2 213.3L229.5 214.5L230.5 215.9L231.3 217.5L231.8 219.2L232.1 221.0L232.2 222.8Z" fill="#0b0b0b" filter="url(#bl)"/>
</g>
<rect x="240.6" y="243.4" width="5.0" height="1.3" fill="#1c1c1c" opacity="0.85" filter="url(#sp)"/>
<g clip-path="none">
<ellipse cx="266.5" cy="227.9" rx="15.3" ry="17.3" fill="#777" opacity="0.28" filter="url(#bl2)"/>
<path d="M278.2 227.9L278.2 229.7L278.0 231.5L277.4 233.2L276.6 234.8L275.6 236.2L274.5 237.4L273.3 238.3L272.0 239.1L270.6 239.6L269.2 240.0L267.9 240.1L266.5 240.1L265.1 240.1L263.8 240.0L262.3 239.8L260.8 239.5L259.3 239.0L257.8 238.1L256.6 236.9L255.6 235.3L255.0 233.5L254.8 231.6L254.9 229.7L255.2 227.9L255.6 226.2L256.1 224.6L256.7 223.1L257.4 221.7L258.2 220.4L259.0 219.1L260.0 217.9L261.1 216.9L262.3 215.9L263.6 215.0L265.0 214.4L266.5 214.0L268.1 213.9L269.6 214.3L271.0 215.0L272.3 216.1L273.4 217.4L274.3 218.7L275.1 220.1L275.9 221.5L276.6 223.0L277.3 224.5L277.8 226.1Z" fill="#0b0b0b" filter="url(#bl)"/>
</g>
<rect x="287.7" y="243.4" width="5.0" height="1.3" fill="#1c1c1c" opacity="0.85" filter="url(#sp)"/>
<g clip-path="none">
<ellipse cx="315.1" cy="225.7" rx="15.6" ry="16.9" fill="#777" opacity="0.28" filter="url(#bl2)"/>
<path d="M327.1 225.7L326.8 227.4L326.2 229.0L325.6 230.5L324.8 231.9L324.0 233.3L323.1 234.5L322.0 235.7L320.8 236.7L319.5 237.5L318.1 238.1L316.6 238.5L315.1 238.6L313.6 238.5L312.1 238.3L310.6 237.8L309.1 237.2L307.8 236.3L306.6 235.2L305.6 233.8L304.8 232.3L304.3 230.7L304.1 229.0L304.1 227.3L304.2 225.7L304.4 224.1L304.6 222.6L304.8 221.0L305.2 219.3L305.7 217.7L306.5 216.1L307.5 214.7L308.8 213.6L310.3 212.9L311.9 212.6L313.6 212.7L315.1 213.1L316.5 213.6L317.9 214.2L319.2 214.8L320.5 215.3L321.8 216.0L323.2 216.7L324.5 217.7L325.6 219.0L326.5 220.5L327.0 222.1L327.2 223.9Z" fill="#0b0b0b" filter="url(#bl)"/>
</g>
<rect x="334.1" y="243.4" width="5.0" height="1.3" fill="#1c1c1c" opacity="0.85" filter="url(#sp)"/>
<g clip-path="none">
<ellipse cx="362" cy="223.2" rx="16.1" ry="16.2" fill="#777" opacity="0.28" filter="url(#bl2)"/>
<path d="M374.2 223.2L373.6 224.7L372.9 226.1L372.2 227.5L371.7 228.8L371.1 230.2L370.4 231.7L369.5 233.1L368.3 234.3L366.9 235.2L365.3 235.8L363.7 236.1L362.0 236.1L360.4 235.8L358.8 235.2L357.5 234.2L356.3 233.1L355.3 232.0L354.3 230.9L353.2 230.0L352.0 229.0L350.8 227.9L349.7 226.5L349.0 224.9L348.9 223.2L349.2 221.5L349.9 219.9L350.7 218.5L351.6 217.2L352.6 215.9L353.6 214.7L354.8 213.7L356.1 212.9L357.5 212.3L359.0 211.8L360.5 211.4L362.0 211.1L363.6 211.0L365.2 211.2L366.7 211.7L368.1 212.5L369.4 213.5L370.5 214.6L371.6 215.7L372.7 217.0L373.6 218.3L374.3 219.9L374.5 221.5Z" fill="#0b0b0b" filter="url(#bl)"/>
</g>
<rect x="381" y="243.4" width="5.0" height="1.3" fill="#1c1c1c" opacity="0.85" filter="url(#sp)"/>
<g clip-path="none">
<ellipse cx="178" cy="264.4" rx="17.3" ry="16.3" fill="#555" opacity="0.4" filter="url(#bl2)"/>
<path d="M192.7 265.2L192.7 266.9L192.5 268.6L192.0 270.3L191.1 271.8L190.0 273.1L188.6 274.3L187.0 275.1L185.4 275.8L183.7 276.2L182.1 276.5L180.4 276.7L178.8 276.7L177.2 276.7L175.5 276.6L173.8 276.4L172.1 276.0L170.4 275.3L168.8 274.4L167.4 273.3L166.2 271.9L165.4 270.3L164.9 268.6L164.7 266.9L164.9 265.2L165.3 263.6L166.0 262.0L166.8 260.6L167.6 259.2L168.6 258.0L169.7 256.8L170.9 255.7L172.2 254.6L173.7 253.8L175.3 253.1L177.0 252.6L178.8 252.4L180.6 252.5L182.4 252.9L184.0 253.5L185.5 254.4L186.9 255.4L188.1 256.6L189.2 257.8L190.2 259.1L191.0 260.5L191.8 262.0L192.3 263.6Z" fill="#2a2a2a" opacity="0.7" filter="url(#bl1)"/>
<path d="M192.3 266.6L192.4 268.1L192.2 269.5L191.7 271.0L191.0 272.3L190.0 273.5L188.7 274.4L187.4 275.2L186.0 275.7L184.5 276.1L183.1 276.4L181.6 276.5L180.2 276.6L178.8 276.6L177.3 276.5L175.8 276.3L174.3 275.9L172.9 275.4L171.5 274.6L170.2 273.6L169.2 272.4L168.5 271.0L168.0 269.6L167.9 268.1L168.1 266.6L168.4 265.2L169.0 263.9L169.7 262.6L170.5 261.4L171.3 260.4L172.3 259.3L173.3 258.4L174.4 257.5L175.7 256.7L177.1 256.1L178.6 255.7L180.2 255.6L181.8 255.6L183.3 256.0L184.8 256.5L186.1 257.3L187.3 258.1L188.4 259.1L189.3 260.2L190.2 261.3L190.9 262.5L191.5 263.8L192.0 265.2Z" fill="#0b0b0b" filter="url(#bl)"/>
</g>
<rect x="192.1" y="281.3" width="6.4" height="1.3" fill="#1c1c1c" opacity="0.85" filter="url(#sp)"/>
<g clip-path="none">
<ellipse cx="221.8" cy="262.7" rx="15.3" ry="13.5" fill="#555" opacity="0.4" filter="url(#bl2)"/>
<path d="M233.1 263.5L233.0 264.7L233.0 265.8L232.8 267.1L232.6 268.4L232.1 269.6L231.3 270.8L230.2 271.9L228.9 272.6L227.3 273.1L225.7 273.3L224.1 273.1L222.6 272.8L221.2 272.3L220.0 271.8L218.8 271.3L217.6 270.8L216.4 270.4L215.0 269.9L213.6 269.3L212.2 268.6L210.9 267.6L209.9 266.4L209.3 265.0L209.1 263.5L209.4 262.0L210.2 260.7L211.3 259.6L212.6 258.6L214.0 258.0L215.4 257.4L216.7 257.0L217.8 256.6L218.9 256.0L220.0 255.5L221.2 254.8L222.6 254.2L224.1 253.8L225.8 253.5L227.5 253.6L229.1 254.0L230.5 254.8L231.7 255.8L232.5 257.1L233.0 258.4L233.2 259.8L233.2 261.1L233.2 262.3Z" fill="#2a2a2a" opacity="0.7" filter="url(#bl1)"/>
<path d="M233.0 264.9L232.9 265.9L232.8 266.8L232.7 267.9L232.5 268.9L232.1 270.0L231.4 270.9L230.5 271.8L229.3 272.4L228.0 272.8L226.6 273.0L225.3 272.8L224.0 272.6L222.8 272.2L221.8 271.7L220.8 271.3L219.7 270.9L218.7 270.6L217.5 270.2L216.3 269.7L215.2 269.1L214.1 268.3L213.2 267.3L212.6 266.1L212.5 264.9L212.8 263.7L213.4 262.6L214.4 261.6L215.5 260.9L216.7 260.3L217.9 259.9L219.0 259.5L219.9 259.2L220.9 258.8L221.8 258.3L222.8 257.7L224.0 257.3L225.3 256.9L226.7 256.7L228.1 256.7L229.5 257.1L230.8 257.7L231.7 258.6L232.4 259.6L232.9 260.7L233.0 261.8L233.1 262.9L233.0 263.9Z" fill="#0b0b0b" filter="url(#bl)"/>
</g>
<rect x="239.2" y="281.3" width="6.4" height="1.3" fill="#1c1c1c" opacity="0.85" filter="url(#sp)"/>
<g clip-path="none">
<ellipse cx="272" cy="264.7" rx="14.7" ry="14.7" fill="#666" opacity="0.4" filter="url(#bl2)"/>
<path d="M281.5 264.7L281.3 265.9L281.0 267.1L280.5 268.2L279.9 269.3L279.2 270.3L278.5 271.2L277.6 272.0L276.6 272.7L275.6 273.3L274.4 273.8L273.2 274.1L272.0 274.2L270.8 274.0L269.6 273.7L268.5 273.2L267.4 272.6L266.4 271.9L265.5 271.2L264.7 270.3L264.0 269.3L263.4 268.3L262.9 267.1L262.6 265.9L262.5 264.7L262.7 263.5L263.0 262.3L263.5 261.2L264.1 260.1L264.8 259.1L265.5 258.2L266.4 257.4L267.4 256.7L268.4 256.1L269.6 255.6L270.8 255.3L272.0 255.2L273.2 255.4L274.4 255.7L275.5 256.2L276.6 256.8L277.6 257.5L278.5 258.2L279.3 259.1L280.0 260.1L280.6 261.1L281.1 262.3L281.4 263.5Z" fill="#222" opacity="0.7" filter="url(#bl1)"/>
<path d="M280.4 264.7L280.2 265.8L280.0 266.8L279.5 267.8L279.0 268.7L278.4 269.6L277.7 270.4L276.9 271.1L276.1 271.8L275.2 272.3L274.2 272.7L273.1 273.0L272.0 273.1L270.9 272.9L269.9 272.7L268.9 272.2L268.0 271.7L267.1 271.1L266.3 270.4L265.6 269.6L264.9 268.8L264.4 267.9L264.0 266.9L263.7 265.8L263.6 264.7L263.8 263.6L264.0 262.6L264.5 261.6L265.0 260.7L265.6 259.8L266.3 259.0L267.1 258.3L267.9 257.6L268.8 257.1L269.8 256.7L270.9 256.4L272.0 256.3L273.1 256.5L274.1 256.7L275.1 257.2L276.0 257.7L276.9 258.3L277.7 259.0L278.4 259.8L279.1 260.6L279.6 261.5L280.0 262.5L280.3 263.6Z" fill="#0b0b0b" filter="url(#bl)"/>
</g>
<rect x="286.3" y="281.3" width="6.4" height="1.3" fill="#1c1c1c" opacity="0.85" filter="url(#sp)"/>
<g clip-path="none">
<ellipse cx="321" cy="263.8" rx="14.8" ry="14.7" fill="#666" opacity="0.4" filter="url(#bl2)"/>
<path d="M330.6 263.8L330.4 265.0L330.0 266.2L329.6 267.3L328.9 268.3L328.2 269.3L327.4 270.2L326.6 271.0L325.6 271.7L324.6 272.3L323.4 272.8L322.2 273.2L321.0 273.3L319.7 273.3L318.5 273.1L317.3 272.6L316.2 272.0L315.2 271.2L314.4 270.4L313.7 269.4L313.1 268.3L312.6 267.3L312.2 266.1L311.9 265.0L311.8 263.8L311.8 262.6L311.9 261.4L312.2 260.2L312.7 259.0L313.3 258.0L314.2 257.0L315.1 256.2L316.2 255.6L317.4 255.1L318.6 254.8L319.8 254.7L321.0 254.7L322.2 254.8L323.4 255.1L324.5 255.4L325.6 255.9L326.7 256.5L327.7 257.2L328.6 258.1L329.3 259.0L329.9 260.1L330.4 261.3L330.6 262.6Z" fill="#222" opacity="0.7" filter="url(#bl1)"/>
<path d="M329.5 263.8L329.3 264.9L329.0 265.9L328.6 266.9L328.0 267.8L327.4 268.6L326.7 269.4L325.9 270.1L325.1 270.8L324.2 271.3L323.2 271.7L322.1 272.0L321.0 272.2L319.9 272.2L318.8 272.0L317.7 271.6L316.8 271.0L315.9 270.4L315.2 269.6L314.5 268.7L314.0 267.8L313.6 266.8L313.2 265.9L313.0 264.8L312.9 263.8L312.8 262.7L313.0 261.7L313.2 260.6L313.6 259.6L314.2 258.7L315.0 257.8L315.8 257.1L316.8 256.6L317.8 256.2L318.9 255.9L319.9 255.8L321.0 255.8L322.1 255.9L323.1 256.1L324.1 256.4L325.1 256.8L326.0 257.3L326.9 258.0L327.7 258.7L328.4 259.6L328.9 260.6L329.3 261.6L329.4 262.7Z" fill="#0b0b0b" filter="url(#bl)"/>
</g>
<rect x="332.7" y="281.3" width="6.4" height="1.3" fill="#1c1c1c" opacity="0.85" filter="url(#sp)"/>
<g clip-path="none">
<ellipse cx="363.6" cy="263.1" rx="14.5" ry="14.6" fill="#666" opacity="0.4" filter="url(#bl2)"/>
<path d="M372.5 263.1L372.3 264.3L372.0 265.4L371.7 266.5L371.2 267.6L370.7 268.6L370.0 269.6L369.2 270.5L368.3 271.3L367.2 271.9L366.0 272.3L364.8 272.6L363.6 272.6L362.4 272.4L361.2 272.0L360.2 271.5L359.2 270.9L358.3 270.1L357.4 269.3L356.7 268.5L356.0 267.6L355.3 266.6L354.8 265.5L354.5 264.3L354.3 263.1L354.3 261.9L354.5 260.6L354.9 259.4L355.5 258.4L356.3 257.4L357.2 256.6L358.1 255.9L359.2 255.3L360.2 254.9L361.3 254.6L362.5 254.3L363.6 254.2L364.8 254.1L365.9 254.2L367.1 254.5L368.3 254.9L369.3 255.5L370.3 256.3L371.1 257.3L371.7 258.4L372.2 259.5L372.4 260.7L372.5 261.9Z" fill="#222" opacity="0.7" filter="url(#bl1)"/>
<path d="M371.4 263.1L371.2 264.1L371.0 265.1L370.7 266.1L370.3 267.0L369.8 267.9L369.2 268.8L368.5 269.6L367.7 270.3L366.8 270.9L365.8 271.2L364.7 271.4L363.6 271.4L362.5 271.3L361.5 270.9L360.6 270.5L359.7 269.9L358.9 269.3L358.2 268.6L357.5 267.8L356.9 267.0L356.3 266.1L355.9 265.2L355.6 264.2L355.4 263.1L355.4 262.0L355.6 260.9L355.9 259.9L356.5 258.9L357.1 258.1L357.9 257.4L358.8 256.8L359.7 256.3L360.6 255.9L361.6 255.6L362.6 255.4L363.6 255.2L364.6 255.2L365.7 255.3L366.7 255.5L367.7 255.9L368.6 256.4L369.5 257.1L370.2 258.0L370.7 258.9L371.1 259.9L371.3 261.0L371.4 262.1Z" fill="#0b0b0b" filter="url(#bl)"/>
</g>
<rect x="379.6" y="281.3" width="6.4" height="1.3" fill="#1c1c1c" opacity="0.85" filter="url(#sp)"/>
<g clip-path="none">
<ellipse cx="176" cy="306.5" rx="10.9" ry="10.9" fill="#777" opacity="0.28" filter="url(#bl2)"/>
<path d="M182.9 306.5L182.8 307.4L182.7 308.3L182.4 309.1L182.0 309.9L181.5 310.7L180.9 311.4L180.2 312.0L179.4 312.5L178.6 312.9L177.8 313.2L176.9 313.3L176.0 313.4L175.1 313.3L174.2 313.2L173.4 312.9L172.6 312.5L171.8 312.0L171.1 311.4L170.5 310.7L170.0 309.9L169.6 309.1L169.3 308.3L169.2 307.4L169.1 306.5L169.2 305.6L169.3 304.7L169.6 303.9L170.0 303.1L170.5 302.3L171.1 301.6L171.8 301.0L172.5 300.5L173.4 300.1L174.2 299.8L175.1 299.7L176.0 299.6L176.9 299.7L177.8 299.8L178.6 300.1L179.4 300.5L180.2 301.0L180.9 301.6L181.5 302.3L182.0 303.1L182.4 303.9L182.7 304.7L182.8 305.6Z" fill="#0b0b0b" filter="url(#blc)"/>
</g>
<rect x="192.1" y="319.8" width="6.4" height="1.3" fill="#1c1c1c" opacity="0.85" filter="url(#sp)"/>
<g clip-path="none">
<ellipse cx="225.3" cy="302.2" rx="10" ry="10" fill="#777" opacity="0.28" filter="url(#bl2)"/>
<path d="M231.3 302.2L231.2 303.0L231.1 303.8L230.8 304.5L230.5 305.2L230.1 305.9L229.5 306.4L229.0 307.0L228.3 307.4L227.6 307.7L226.9 308.0L226.1 308.1L225.3 308.2L224.5 308.1L223.7 308.0L223.0 307.7L222.3 307.4L221.6 307.0L221.1 306.4L220.5 305.9L220.1 305.2L219.8 304.5L219.5 303.8L219.4 303.0L219.3 302.2L219.4 301.4L219.5 300.6L219.8 299.9L220.1 299.2L220.5 298.5L221.1 298.0L221.6 297.4L222.3 297.0L223.0 296.7L223.7 296.4L224.5 296.3L225.3 296.2L226.1 296.3L226.9 296.4L227.6 296.7L228.3 297.0L229.0 297.4L229.5 298.0L230.1 298.5L230.5 299.2L230.8 299.9L231.1 300.6L231.2 301.4Z" fill="#0b0b0b" filter="url(#blc)"/>
</g>
<rect x="239.2" y="319.8" width="6.4" height="1.3" fill="#1c1c1c" opacity="0.85" filter="url(#sp)"/>
<g clip-path="none">
<ellipse cx="271.1" cy="296.1" rx="9.5" ry="9.6" fill="#777" opacity="0.28" filter="url(#bl2)"/>
<path d="M276.6 296.1L276.6 296.8L276.4 297.5L276.2 298.2L275.9 298.9L275.5 299.5L275.0 300.1L274.4 300.5L273.9 300.9L273.2 301.3L272.5 301.5L271.8 301.7L271.1 301.7L270.4 301.7L269.7 301.5L269.0 301.3L268.4 300.9L267.8 300.5L267.2 300.1L266.7 299.5L266.3 298.9L266.0 298.2L265.8 297.5L265.6 296.8L265.6 296.1L265.6 295.4L265.8 294.7L266.0 294.0L266.3 293.3L266.7 292.7L267.2 292.1L267.8 291.7L268.4 291.3L269.0 290.9L269.7 290.7L270.4 290.5L271.1 290.5L271.8 290.5L272.5 290.7L273.2 290.9L273.9 291.3L274.4 291.7L275.0 292.1L275.5 292.7L275.9 293.3L276.2 294.0L276.4 294.7L276.6 295.4Z" fill="#0b0b0b" filter="url(#blc)"/>
</g>
<rect x="286.3" y="319.8" width="6.4" height="1.3" fill="#1c1c1c" opacity="0.85" filter="url(#sp)"/>
<g clip-path="none">
<ellipse cx="322.2" cy="295.7" rx="10.4" ry="10.4" fill="#666" opacity="0.42" filter="url(#bl2)"/>
<ellipse cx="322.2" cy="295.7" rx="5.6" ry="5.6" fill="#333" opacity="0.8" filter="url(#bl1)"/>
<ellipse cx="322.2" cy="295.7" rx="3.4" ry="3.4" fill="#101010" filter="url(#bl)"/>
</g>
<rect x="332.7" y="319.8" width="6.4" height="1.3" fill="#1c1c1c" opacity="0.85" filter="url(#sp)"/>
<g clip-path="none">
<ellipse cx="359.7" cy="294.7" rx="9.9" ry="10.3" fill="#666" opacity="0.42" filter="url(#bl2)"/>
<ellipse cx="359.7" cy="294.7" rx="5.1" ry="5.5" fill="#333" opacity="0.8" filter="url(#bl1)"/>
<ellipse cx="359.7" cy="294.7" rx="2.9" ry="3.3" fill="#101010" filter="url(#bl)"/>
</g>
<rect x="379.6" y="319.8" width="6.4" height="1.3" fill="#1c1c1c" opacity="0.85" filter="url(#sp)"/>
<path d="M343.9 243.9L353.8 231.8" stroke="#555" stroke-width="0.7" fill="none" filter="url(#sp)"/>
<circle cx="197.6" cy="270.2" r="1.6" fill="#141414" opacity="0.75" filter="url(#sp)"/>
<circle cx="240.6" cy="257.5" r="3" fill="#141414" opacity="0.62" filter="url(#sp)"/>
<circle cx="237.3" cy="268.6" r="3" fill="#141414" opacity="0.62" filter="url(#sp)"/>
<circle cx="243.5" cy="259.5" r="1.6" fill="#141414" opacity="0.5" filter="url(#sp)"/>
<circle cx="250.8" cy="255.9" r="1.4" fill="#141414" opacity="0.9" filter="url(#sp)"/>
<circle cx="283.8" cy="275.1" r="1.4" fill="#141414" opacity="0.85" filter="url(#sp)"/>
<circle cx="274.5" cy="279" r="1.1" fill="#141414" opacity="0.8" filter="url(#sp)"/>
<circle cx="285.9" cy="250.6" r="0.9" fill="#141414" opacity="0.6" filter="url(#sp)"/>
<circle cx="263.5" cy="252.5" r="0.8" fill="#141414" opacity="0.55" filter="url(#sp)"/>
<circle cx="266.5" cy="252" r="0.8" fill="#141414" opacity="0.5" filter="url(#sp)"/>
<circle cx="281.5" cy="258.5" r="0.9" fill="#141414" opacity="0.5" filter="url(#sp)"/>
<circle cx="283" cy="261.5" r="0.9" fill="#141414" opacity="0.45" filter="url(#sp)"/>
<circle cx="253" cy="273" r="0.9" fill="#141414" opacity="0.45" filter="url(#sp)"/>
<circle cx="336" cy="260.3" r="1.1" fill="#141414" opacity="0.7" filter="url(#sp)"/>
<circle cx="331" cy="253.5" r="0.8" fill="#141414" opacity="0.5" filter="url(#sp)"/>
<circle cx="333.5" cy="255.5" r="0.7" fill="#141414" opacity="0.45" filter="url(#sp)"/>
<circle cx="373.5" cy="259.5" r="1" fill="#141414" opacity="0.55" filter="url(#sp)"/>
<circle cx="217.6" cy="292.3" r="0.9" fill="#141414" opacity="0.7" filter="url(#sp)"/>
<circle cx="164" cy="291" r="0.9" fill="#141414" opacity="0.4" filter="url(#sp)"/>
<circle cx="166.5" cy="293.5" r="0.8" fill="#141414" opacity="0.4" filter="url(#sp)"/>
<circle cx="162" cy="316" r="0.8" fill="#141414" opacity="0.4" filter="url(#sp)"/>
<circle cx="213" cy="313" r="0.7" fill="#141414" opacity="0.35" filter="url(#sp)"/>
<circle cx="241" cy="318" r="0.7" fill="#141414" opacity="0.35" filter="url(#sp)"/>
<circle cx="307.5" cy="299.1" r="1.3" fill="#141414" opacity="0.7" filter="url(#sp)"/>
<circle cx="304.5" cy="296" r="0.8" fill="#141414" opacity="0.45" filter="url(#sp)"/>
<circle cx="381.3" cy="301.8" r="0.9" fill="#141414" opacity="0.55" filter="url(#sp)"/>
<circle cx="381.3" cy="307.8" r="0.9" fill="#141414" opacity="0.55" filter="url(#sp)"/>
<circle cx="252" cy="297.5" r="0.9" fill="#141414" opacity="0.5" filter="url(#sp)"/>
<circle cx="259" cy="305" r="0.7" fill="#141414" opacity="0.45" filter="url(#sp)"/>
<circle cx="285" cy="300" r="0.7" fill="#141414" opacity="0.4" filter="url(#sp)"/>
<circle cx="280" cy="312" r="0.7" fill="#141414" opacity="0.4" filter="url(#sp)"/>
<circle cx="300" cy="292" r="0.8" fill="#141414" opacity="0.45" filter="url(#sp)"/>
<circle cx="312" cy="308" r="0.7" fill="#141414" opacity="0.4" filter="url(#sp)"/>
<circle cx="330" cy="306" r="0.7" fill="#141414" opacity="0.4" filter="url(#sp)"/>
<circle cx="347" cy="300" r="0.7" fill="#141414" opacity="0.4" filter="url(#sp)"/>
<circle cx="352" cy="309" r="0.7" fill="#141414" opacity="0.4" filter="url(#sp)"/>
<circle cx="371" cy="312" r="0.7" fill="#141414" opacity="0.35" filter="url(#sp)"/>
<circle cx="250.3" cy="293.9" r="0.9" fill="#141414" opacity="0.5" filter="url(#sp)"/>
<circle cx="257.7" cy="301" r="0.9" fill="#141414" opacity="0.5" filter="url(#sp)"/>
<circle cx="284.5" cy="297.8" r="0.8" fill="#141414" opacity="0.45" filter="url(#sp)"/>
<circle cx="288.5" cy="287.8" r="0.9" fill="#141414" opacity="0.5" filter="url(#sp)"/>
<circle cx="285.9" cy="308.4" r="0.8" fill="#141414" opacity="0.4" filter="url(#sp)"/>
<circle cx="276.6" cy="307" r="0.8" fill="#141414" opacity="0.4" filter="url(#sp)"/>
<circle cx="303.5" cy="293.9" r="1" fill="#141414" opacity="0.55" filter="url(#sp)"/>
<circle cx="309.6" cy="292.5" r="0.9" fill="#141414" opacity="0.5" filter="url(#sp)"/>
<circle cx="332" cy="304.4" r="0.8" fill="#141414" opacity="0.45" filter="url(#sp)"/>
<circle cx="301.7" cy="313.6" r="0.8" fill="#141414" opacity="0.4" filter="url(#sp)"/>
<circle cx="349.1" cy="305.7" r="0.9" fill="#141414" opacity="0.45" filter="url(#sp)"/>
<circle cx="345.2" cy="295.2" r="0.8" fill="#141414" opacity="0.4" filter="url(#sp)"/>
<circle cx="353.6" cy="291.2" r="0.8" fill="#141414" opacity="0.45" filter="url(#sp)"/>
<circle cx="303.5" cy="224.5" r="0.9" fill="#141414" opacity="0.5" filter="url(#sp)"/>
<circle cx="183" cy="238.5" r="0.7" fill="#141414" opacity="0.4" filter="url(#sp)"/>
<circle cx="286" cy="232" r="0.6" fill="#141414" opacity="0.3" filter="url(#sp)"/>
<circle cx="287.5" cy="222" r="0.6" fill="#141414" opacity="0.3" filter="url(#sp)"/>
</g>
<text x="177.4" y="206.6" text-anchor="middle" font-size="10.3" font-weight="bold" fill="#111" style="stroke-width:0.5px;stroke:#111">0</text>
<text x="224" y="206.6" text-anchor="middle" font-size="10.3" font-weight="bold" fill="#111" style="stroke-width:0.5px;stroke:#111">1</text>
<text x="269" y="206.6" text-anchor="middle" font-size="10.3" font-weight="bold" fill="#111" style="stroke-width:0.5px;stroke:#111">5</text>
<text x="317" y="206.6" text-anchor="middle" font-size="10.3" font-weight="bold" fill="#111" style="stroke-width:0.5px;stroke:#111">10</text>
<text x="364.8" y="206.6" text-anchor="middle" font-size="10.3" font-weight="bold" fill="#111" style="stroke-width:0.5px;stroke:#111">20</text>
<text x="143.7" y="203.4" text-anchor="middle" font-size="8.6" font-weight="bold" fill="#333" dominant-baseline="central" textLength="47" lengthAdjust="spacingAndGlyphs">FK866 (nM)</text>
<text x="86.3" y="214.3" text-anchor="middle" font-size="14.2" font-weight="bold" fill="#111" textLength="8.71" lengthAdjust="spacingAndGlyphs">E</text>
<text x="128" y="233.3" font-size="10.3" font-weight="bold" fill="#111" textLength="22.5" lengthAdjust="spacingAndGlyphs">NHC</text>
<text x="110.7" y="267.9" font-size="10.3" font-weight="bold" fill="#111" textLength="39.8" lengthAdjust="spacingAndGlyphs">HuCCT1</text>
<text x="118.5" y="305.8" font-size="10.3" font-weight="bold" fill="#111" textLength="32" lengthAdjust="spacingAndGlyphs">KMCH</text>
</svg></body></html>
